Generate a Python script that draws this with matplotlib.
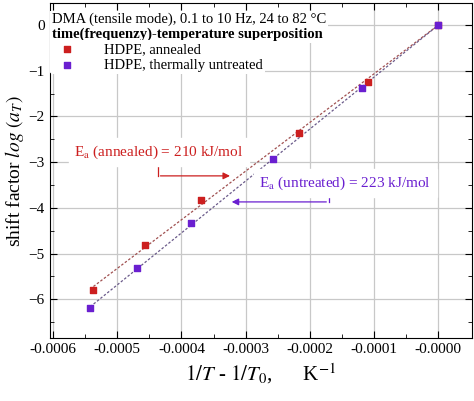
import matplotlib
matplotlib.use("Agg")
import matplotlib.pyplot as plt
import numpy as np

plt.rcParams['font.family'] = ['Liberation Serif', 'DejaVu Serif']
plt.rcParams['mathtext.fontset'] = 'stix'

ann_x = [-0.000537, -0.000457, -0.000369, -0.000217, -0.000110, 0.0]
ann_y = [-5.80, -4.82, -3.82, -2.37, -1.25, 0.0]
unt_x = [-0.000542, -0.000469, -0.000385, -0.000258, -0.000118, 0.0]
unt_y = [-6.20, -5.32, -4.34, -2.93, -1.38, 0.0]
xticks = [-0.0006, -0.0005, -0.0004, -0.0003, -0.0002, -0.0001, 0.0]
xticklabels = ['-0.0006', '-0.0005', '-0.0004', '-0.0003', '-0.0002', '-0.0001', '-0.0000']
yticks = [0, -1, -2, -3, -4, -5, -6]

red = '#cc1f1f'
purple = '#6a1fd0'

fig = plt.figure(figsize=(4.74, 4.01), dpi=100)
ax = fig.add_axes([0.105, 0.157, 0.89, 0.835])

for x, y, c, lc in [(ann_x, ann_y, red, '#a05050'), (unt_x, unt_y, purple, '#6a5a8a')]:
    xa = np.array(x); ya = np.array(y)
    k = np.sum(xa * ya) / np.sum(xa * xa)
    xs = np.array([xa.min(), 0.0])
    ax.plot(xs, k * xs, ls=(0, (2, 1.5)), color=lc, lw=0.9, zorder=2)
ax.scatter(ann_x, ann_y, marker='s', s=14, color=red, zorder=3, label='HDPE, annealed')
ax.scatter(unt_x, unt_y, marker='s', s=14, color=purple, zorder=3, label='HDPE, thermally untreated')

ax.set_xlim(-0.000605, 0.000052)
ax.set_ylim(-6.85, 0.48)
ax.set_xticks(xticks)
ax.set_xticklabels(xticklabels)
ax.set_yticks(yticks)
ax.set_xticks(np.arange(-0.00055, 0, 0.0001), minor=True)
ax.set_yticks(np.arange(-6.5, 0.1, 1), minor=True)
ax.tick_params(which='both', direction='in', top=True, right=True, labelsize=11)
ax.tick_params(which='major', length=5)
ax.tick_params(which='minor', length=3)
ax.grid(True, which='major', color='#c8c8c8', lw=0.9)
ax.set_axisbelow(True)

ax.set_ylabel(r'shift factor $\mathit{log}\ (a_T)$', fontsize=14, labelpad=2)
ax.set_xlabel(r'$\mathit{1/T}$ - $\mathit{1/T_0}$,      K$^{-1}$', fontsize=15)

ax.text(0.005, 0.952, 'DMA (tensile mode), 0.1 to 10 Hz, 24 to 82 °C', fontsize=10.5,
        va='center', transform=ax.transAxes,
        bbox=dict(facecolor='white', edgecolor='none', pad=1))
ax.text(0.005, 0.907, 'time(frequenzy)-temperature superposition', fontsize=10.5,
        fontweight='bold', va='center', transform=ax.transAxes,
        bbox=dict(facecolor='white', edgecolor='none', pad=1))
leg = ax.legend(loc='upper left', bbox_to_anchor=(0.0, 0.89), frameon=True, fontsize=10.5,
                handletextpad=1.5, borderaxespad=0.0, labelspacing=0.15, borderpad=0.2)
leg.get_frame().set_edgecolor('none')
leg.get_frame().set_facecolor('white')
leg.get_frame().set_alpha(1)

ax.text(-0.000435, -2.78, r'E$_{\mathrm{a}}$ (annealed) = 210 kJ/mol', color=red, fontsize=11,
        ha='center', va='center', backgroundcolor='white')
ax.plot([-0.000437, -0.000437], [-3.09, -3.30], color=red, lw=0.9)
ax.annotate('', xy=(-0.00032, -3.30), xytext=(-0.000437, -3.30),
            arrowprops=dict(arrowstyle='-|>', color=red, lw=0.9, mutation_scale=10))
ax.text(-0.000145, -3.46, r'E$_{\mathrm{a}}$ (untreated) = 223 kJ/mol', color=purple, fontsize=11,
        ha='center', va='center', backgroundcolor='white')
ax.plot([-0.00017, -0.00017], [-3.76, -3.87], color=purple, lw=0.9)
ax.annotate('', xy=(-0.000326, -3.87), xytext=(-0.00017, -3.87),
            arrowprops=dict(arrowstyle='-|>', color=purple, lw=0.9, mutation_scale=10))

fig.savefig('out.png', dpi=100)
